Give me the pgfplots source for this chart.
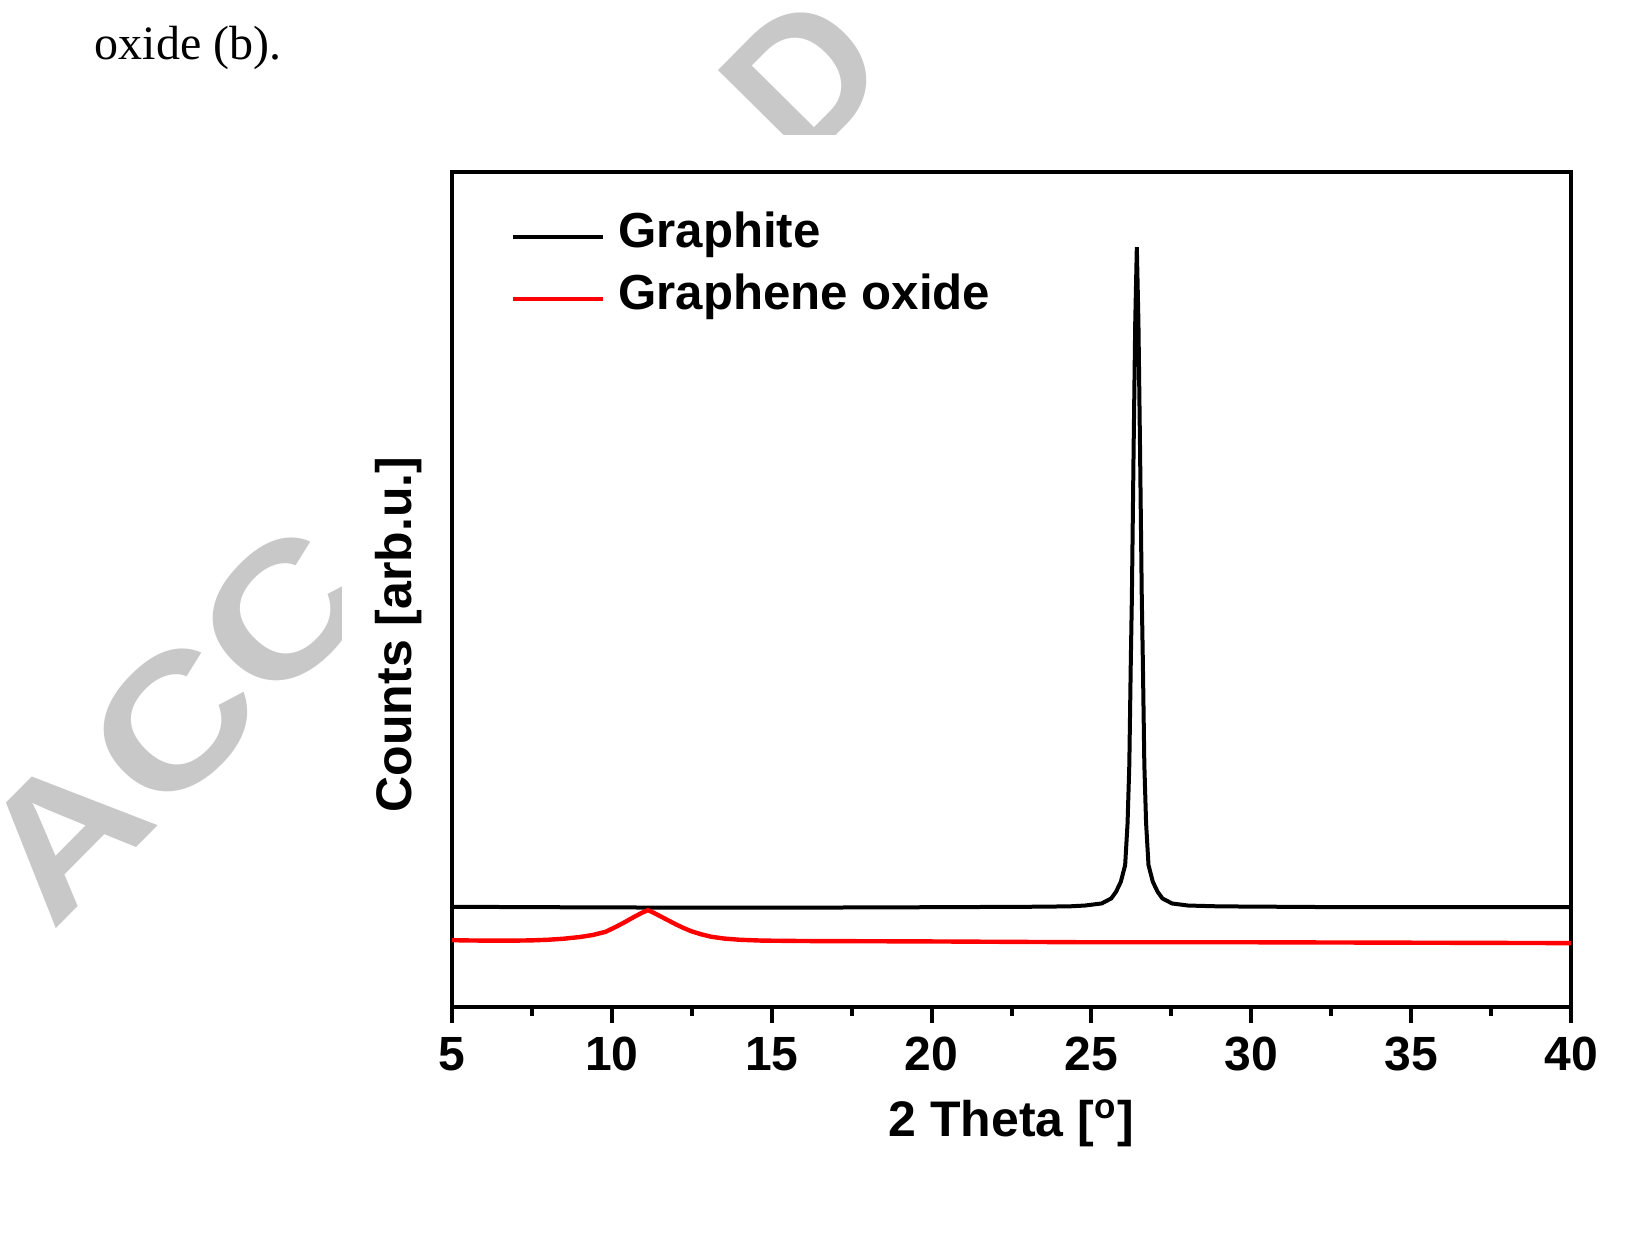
\documentclass[border=0pt]{standalone}
\usepackage{fontspec}
\setmainfont{Liberation Sans}
\newfontfamily\capfont{Liberation Serif}
\newfontfamily\wmfont[FakeStretch=1.2]{Liberation Sans}
\usepackage{pgfplots}
\pgfplotsset{compat=1.18}
\definecolor{wmgray}{RGB}{200,200,200}
\definecolor{gored}{RGB}{255,0,0}

\begin{document}
\begin{tikzpicture}
\path[use as bounding box] (-113pt,-61pt) rectangle (296.5pt,251.75pt);
% watermark letters that show round the figure
\begin{scope}
\clip (-113pt,-61pt) rectangle (296.5pt,251.75pt);
\node[wmgray, rotate=45.3, inner sep=0pt, font=\wmfont\bfseries\fontsize{45}{45}\selectfont]
  at (-69.75pt,71pt) {ACC};
\node[wmgray, rotate=45.3, inner sep=0pt, font=\fontsize{47}{47}\selectfont\bfseries]
  at (87.75pt,232.5pt) {D};
\end{scope}
\fill[white] (-27.5pt,-61pt) rectangle (296.5pt,218pt);
\node[anchor=base west, inner sep=0pt, font=\capfont\fontsize{12}{14}\selectfont]
  at (-89.5pt,236.75pt) {oxide (b).};

\begin{axis}[
  at={(0pt,0pt)}, anchor=south west,
  scale only axis, width=279.75pt, height=208.75pt,
  xmin=5, xmax=40, ymin=0, ymax=100,
  axis line style={line width=1pt},
  xtick={5,10,...,40}, xticklabels={5,10,15,20,25,30,35,40},
  minor x tick num=1,
  xtick pos=bottom, tick align=outside,
  major tick length=4pt, minor tick length=2.3pt,
  every tick/.append style={black, line width=1pt},
  ytick=\empty,
  font=\fontsize{12.5}{14}\selectfont\bfseries,
  xticklabel style={font=\fontsize{12}{14}\selectfont\bfseries},
  xlabel={2 Theta [\textsuperscript{o}]},
  ylabel={Counts [arb.u.]},
  xlabel style={at={(axis description cs:0.5,-0.139)}, anchor=center},
  ylabel style={at={(axis description cs:-0.048,0.446)}, anchor=center},
  legend cell align=left,
  legend image code/.code={\draw[#1] (0pt,0pt) -- (22.5pt,0pt);},
  legend style={draw=none, fill=none, at={(axis description cs:0,1)},
    anchor=north west, xshift=14.6pt, yshift=-11.2pt, inner sep=0pt,
    row sep=6.1pt, font=\fontsize{12.3}{14}\selectfont\bfseries,
    nodes={inner sep=0pt, text height=0.75em, text depth=0.2em},
    /tikz/every odd column/.append style={column sep=3.2pt}},
]
\addplot[black, line width=1pt] coordinates {
(5,12.0)(8,11.95)(12,11.9)(16,11.9)(20,11.95)(23,12.0)(24.3,12.05)(24.8,12.15)
(25.32,12.4)(25.62,13.0)(25.77,13.8)(25.92,15)(26.055,17)(26.13,22)(26.185,29)
(26.23,41)(26.265,49)(26.32,67)(26.37,82)(26.42,91)(26.47,82)(26.52,67)
(26.575,49)(26.61,41)(26.655,29)(26.71,22)(26.785,17)(26.92,15)(27.07,13.8)
(27.22,13.0)(27.52,12.4)(28.02,12.15)(29,12.05)(33,11.95)(37,11.95)(40,11.95)};
\addplot[gored, line width=1.1pt] coordinates {
(5,8.0)(5.5,7.97)(6,7.95)(6.5,7.94)(7,7.95)(7.5,7.98)(8,8.05)(8.5,8.18)
(9,8.38)(9.4,8.62)(9.8,9.0)(10.1,9.55)(10.4,10.15)(10.7,10.8)(10.95,11.3)
(11.13,11.6)(11.3,11.3)(11.5,10.9)(11.75,10.4)(12.0,9.9)(12.25,9.45)
(12.5,9.05)(12.8,8.7)(13.1,8.42)(13.5,8.2)(14,8.05)(14.7,7.95)(16,7.9)
(20,7.85)(25,7.75)(30,7.75)(35,7.7)(40,7.65)};
\legend{Graphite, Graphene oxide}
\end{axis}
\end{tikzpicture}
\end{document}
